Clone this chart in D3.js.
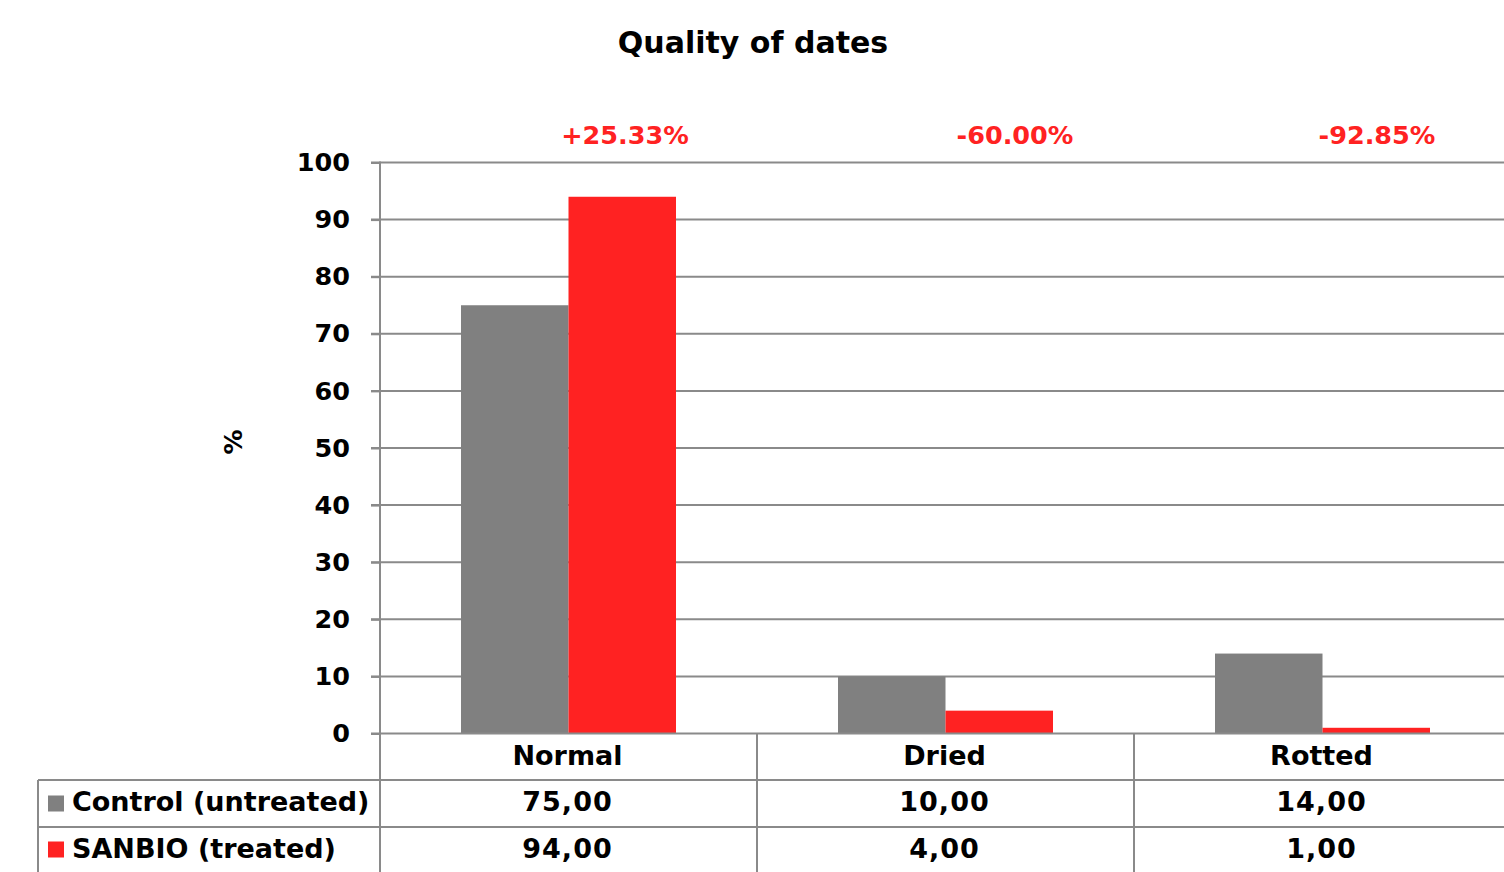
<!DOCTYPE html>
<html>
<head>
<meta charset="utf-8">
<script src="https://cdn.jsdelivr.net/npm/d3@7"></script>
<style>
  body { margin: 0; background: #fff; }
  svg { display: block; font-family: "DejaVu Sans", sans-serif; font-weight: 700; }
</style>
</head>
<body>
<svg id="chart" width="1504" height="872"></svg>
<script>
const categories = ["Normal", "Dried", "Rotted"];
const seriesNames = ["Control (untreated)", "SANBIO (treated)"];
const controlValues = [75, 10, 14];
const sanbioValues = [94, 4, 1];
const changeLabels = ["+25.33%", "-60.00%", "-92.85%"];
const yTicks = [0, 10, 20, 30, 40, 50, 60, 70, 80, 90, 100];
const colors = ["#808080", "#ff2222"];
const gridColor = "#8a8a8a";
const FONT = "'DejaVu Sans', sans-serif";

const svg = d3.select("#chart");
const plotLeft = 380, plotTop = 162.5, plotBottom = 733.5;
const bandW = 377;

const x = d3.scaleBand().domain(categories).range([plotLeft, plotLeft + bandW * categories.length]).padding(0);
const y = d3.scaleLinear().domain([0, 100]).range([plotBottom, plotTop]);
const xs = d3.scaleBand().domain(seriesNames).range([-107.5, 107.5]).padding(0);

const series = seriesNames.map((name, i) => ({ name, values: i === 0 ? controlValues : sanbioValues, color: colors[i] }));

// Title
svg.append("text").attr("x", 753).attr("y", 53).attr("text-anchor", "middle")
  .attr("font-size", 30).attr("fill", "#000").text("Quality of dates");

// Grid lines
svg.append("g").selectAll("line").data(yTicks.filter(d => d > 0)).join("line")
  .attr("x1", plotLeft - 9).attr("x2", 1504)
  .attr("y1", d => y(d)).attr("y2", d => y(d))
  .attr("stroke", gridColor).attr("stroke-width", 2);

// Bars
const g = svg.append("g");
series.forEach(s => {
  g.selectAll(null).data(categories).join("rect")
    .attr("x", (c) => x(c) + x.bandwidth() / 2 + xs(s.name))
    .attr("width", xs.bandwidth())
    .attr("y", (c, i) => y(s.values[i]))
    .attr("height", (c, i) => y(0) - y(s.values[i]))
    .attr("fill", s.color);
});

// Y axis
const yAxis = d3.axisLeft(y).tickValues(yTicks).tickSize(9).tickPadding(21).tickFormat(d3.format("d"));
const ya = svg.append("g").attr("transform", `translate(${plotLeft},0)`).call(yAxis);
ya.select(".domain").remove();
ya.selectAll(".tick line").attr("stroke", gridColor).attr("stroke-width", 2);
ya.selectAll(".tick text").attr("font-size", 25.5).attr("font-family", FONT)
  .attr("font-weight", 700).attr("fill", "#000");
// axis line
svg.append("line").attr("x1", plotLeft).attr("x2", plotLeft).attr("y1", plotTop - 1).attr("y2", 872)
  .attr("stroke", gridColor).attr("stroke-width", 2);
// zero line
svg.append("line").attr("x1", plotLeft - 9).attr("x2", 1504).attr("y1", y(0)).attr("y2", y(0))
  .attr("stroke", gridColor).attr("stroke-width", 2);

// Y label
svg.append("text").attr("transform", "translate(242,442) rotate(-90)").attr("text-anchor", "middle")
  .attr("font-size", 25).attr("fill", "#000").text("%");

// Change annotations
svg.append("g").selectAll("text").data(categories).join("text")
  .attr("x", (c, i) => [625, 1015, 1377][i])
  .attr("y", 144).attr("text-anchor", "middle")
  .attr("font-size", 25.5).attr("fill", "#ff2222")
  .text((c, i) => changeLabels[i]);

// Data table
const rowY = [733.5, 780, 827, 872];
const tg = svg.append("g");
[780, 827].forEach(yy => {
  tg.append("line").attr("x1", 38).attr("x2", 1504).attr("y1", yy).attr("y2", yy)
    .attr("stroke", gridColor).attr("stroke-width", 2);
});
tg.append("line").attr("x1", 38).attr("x2", 38).attr("y1", 780).attr("y2", 872)
  .attr("stroke", gridColor).attr("stroke-width", 2);
categories.slice(1).forEach(c => {
  tg.append("line").attr("x1", x(c)).attr("x2", x(c)).attr("y1", 733.5).attr("y2", 872)
    .attr("stroke", gridColor).attr("stroke-width", 2);
});
tg.selectAll(".cat").data(categories).join("text").attr("class", "cat")
  .attr("x", c => x(c) + x.bandwidth() / 2 - 1).attr("y", 765).attr("text-anchor", "middle")
  .attr("font-size", 27).attr("fill", "#000").text(c => c);
const fmt = v => d3.format(".2f")(v).replace(".", ",");
const rowBase = [811, 858];
series.forEach((s, si) => {
  const cy = (rowY[si + 1] + rowY[si + 2]) / 2;
  tg.append("rect").attr("x", 48).attr("y", cy - 8).attr("width", 16).attr("height", 16).attr("fill", s.color);
  tg.append("text").attr("x", 72).attr("y", rowBase[si]).attr("font-size", 27).attr("fill", "#000").text(s.name);
  tg.selectAll(null).data(categories).join("text")
    .attr("x", c => x(c) + x.bandwidth() / 2 - 1).attr("y", rowBase[si]).attr("text-anchor", "middle")
    .attr("font-size", 27).attr("letter-spacing", 1).attr("fill", "#000")
    .text((c, i) => fmt(s.values[i]));
});
</script>
</body>
</html>
